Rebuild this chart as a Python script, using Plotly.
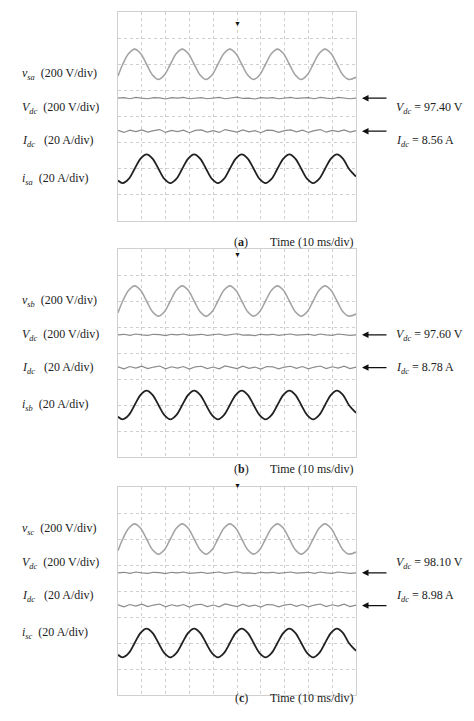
import plotly.graph_objects as go

W, H = 474, 721
OFF = 8  # page body margin in the viewer
# time samples (ms), read every quarter-period of the 50 Hz waves
t_w = [0] + [2 + 2.5 * i for i in range(39)] + [100]
v_a = [1.55,
       2.0, 2.41, 2.58, 2.41, 2.0, 1.59, 1.42, 1.59,
       2.0, 2.41, 2.58, 2.41, 2.0, 1.59, 1.42, 1.59,
       2.0, 2.41, 2.58, 2.41, 2.0, 1.59, 1.42, 1.59,
       2.0, 2.41, 2.58, 2.41, 2.0, 1.59, 1.42, 1.59,
       2.0, 2.41, 2.58, 2.41, 2.0, 1.59, 1.42,
       1.5]
i_a = [-2.45,
       -2.55, -2.39, -2.0, -1.61, -1.45, -1.61, -2.0, -2.39,
       -2.55, -2.39, -2.0, -1.61, -1.45, -1.61, -2.0, -2.39,
       -2.55, -2.39, -2.0, -1.61, -1.45, -1.61, -2.0, -2.39,
       -2.55, -2.39, -2.0, -1.61, -1.45, -1.61, -2.0, -2.39,
       -2.55, -2.39, -2.0, -1.61, -1.45, -1.61, -2.0,
       -2.3]
t_dc = [0, 2.5, 5, 7.5, 10, 12.5, 15, 17.5, 20, 22.5, 25, 27.5, 30, 32.5, 35, 37.5, 40, 42.5, 45, 47.5, 50,
        52.5, 55, 57.5, 60, 62.5, 65, 67.5, 70, 72.5, 75, 77.5, 80, 82.5, 85, 87.5, 90, 92.5, 95, 97.5, 100]
vdc_noise = [0.0, 0.02, -0.02, 0.03, 0.0, -0.02, 0.02, 0.01, -0.03, 0.02, 0.0, 0.03, -0.02, 0.0, 0.02, -0.02,
             0.01, 0.03, -0.02, 0.0, 0.04, -0.01, 0.0, -0.03, 0.02, 0.0, 0.02, -0.02, 0.01, 0.03, -0.01,
             0.0, 0.02, -0.02, 0.03, 0.0, -0.02, 0.03, 0.01, -0.02, 0.0]
idc_noise = [0.03, -0.05, 0.04, -0.02, 0.05, -0.04, 0.02, 0.06, -0.05, 0.03, -0.02, 0.04, -0.06, 0.03, 0.05,
             -0.04, 0.02, -0.05, 0.06, 0.02, -0.04, 0.05, -0.03, 0.02, -0.06, 0.04, 0.03, -0.05, 0.02, 0.05,
             -0.03, 0.04, -0.05, 0.02, 0.06, -0.04, 0.03, -0.02, 0.05, -0.04, 0.02]
panels = ["a", "b", "c"]
vdc_vals = ["97.40", "97.60", "98.10"]
idc_vals = ["8.56", "8.78", "8.98"]
v_level, vdc_level, idc_level, i_level = 2.0, 0.7, -0.56, -2.0
tops = [12, 249, 487]
bots = [221, 457, 695]

fig = go.Figure()
X0, X1 = (118 - OFF) / W, (356 - OFF) / W
font = dict(family="Liberation Serif", size=12, color="#222")

def px(p):
    return (p - OFF) / W

def py(p):
    return 1 - (p - OFF) / H

def ypx(k, val):
    return tops[k] + (4 - val) / 8 * (bots[k] - tops[k])

for k, p in enumerate(panels):
    sx = "" if k == 0 else str(k + 1)
    xa, ya = "x" + sx, "y" + sx
    fig.add_trace(go.Scatter(x=t_w, y=v_a, mode="lines", line=dict(color="#a3a3a3", width=1.6, shape="spline"), xaxis=xa, yaxis=ya))
    fig.add_trace(go.Scatter(x=t_dc, y=[vdc_level + n for n in vdc_noise], mode="lines", line=dict(color="#8a8a8a", width=1.2), xaxis=xa, yaxis=ya))
    fig.add_trace(go.Scatter(x=t_dc, y=[idc_level + n for n in idc_noise], mode="lines", line=dict(color="#8a8a8a", width=1.2), xaxis=xa, yaxis=ya))
    fig.add_trace(go.Scatter(x=t_w, y=i_a, mode="lines", line=dict(color="#222", width=1.8, shape="spline"), xaxis=xa, yaxis=ya))
    ax = dict(showgrid=True, gridcolor="#cfcfcf", griddash="dot", gridwidth=1, zeroline=False,
              showticklabels=False, showline=True, linecolor="#d0d0d0", mirror=True, ticks="")
    fig.layout["xaxis" + sx] = dict(ax, range=[0, 100], dtick=10, domain=[X0, X1], anchor=ya)
    fig.layout["yaxis" + sx] = dict(ax, range=[-4, 4], dtick=1, domain=[py(bots[k]), py(tops[k])], anchor=xa)
    sub = ["sa", "sb", "sc"][k]
    labels = [(f"<i>v<sub>{sub}</sub></i>  (200 V/div)", v_level),
              ("<i>V<sub>dc</sub></i>  (200 V/div)", vdc_level),
              ("<i>I<sub>dc</sub></i>   (20 A/div)", idc_level),
              (f"<i>i<sub>{sub}</sub></i>  (20 A/div)", i_level)]
    for txt, lv in labels:
        fig.add_annotation(x=px(20), y=py(ypx(k, lv)), xref="paper", yref="paper", text=txt,
                           showarrow=False, xanchor="left", font=font)
    for txt, lv in [(f"<i>V<sub>dc</sub></i> = {vdc_vals[k]} V", vdc_level), (f"<i>I<sub>dc</sub></i> = {idc_vals[k]} A", idc_level)]:
        yy = py(ypx(k, lv))
        fig.add_annotation(x=px(362), y=yy, ax=26, ay=0, xref="paper", yref="paper",
                           text="", showarrow=True, arrowhead=2, arrowsize=1, arrowwidth=1.3, arrowcolor="#111")
        fig.add_annotation(x=px(394), y=yy, xref="paper", yref="paper", text=txt, showarrow=False, xanchor="left", font=font)
    fig.add_annotation(x=px(237), y=py(tops[k] + 5), xref="paper", yref="paper", text="▼", showarrow=False,
                       font=dict(size=7, color="#111"))
    cap_y = py(bots[k] + 12)
    fig.add_annotation(x=px(241), y=cap_y, xref="paper", yref="paper", text=f"(<b>{p}</b>)", showarrow=False, font=font)
    fig.add_annotation(x=px(268), y=cap_y, xref="paper", yref="paper", text="Time (10 ms/div)", showarrow=False,
                       xanchor="left", font=font)

fig.update_layout(width=W, height=H, margin=dict(l=0, r=0, t=0, b=0), showlegend=False,
                  paper_bgcolor="white", plot_bgcolor="white")
fig.write_html("out.html")
